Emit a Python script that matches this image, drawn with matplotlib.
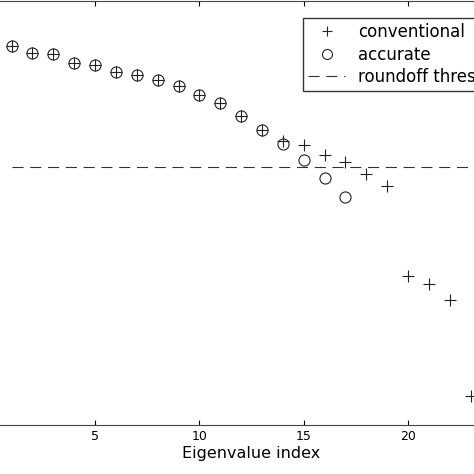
import matplotlib
matplotlib.use('Agg')
import matplotlib.pyplot as plt

# eigenvalue magnitudes (arbitrary log-like units)
conv_idx = list(range(1, 24))
conv_val = [-1.84, -2.12, -2.16, -2.52, -2.60, -2.88, -3.00, -3.20, -3.44, -3.80,
            -4.12, -4.64, -5.20, -5.64, -5.80, -6.20, -6.48, -6.96, -7.44,
            -11.0, -11.32, -11.96, -15.8]
acc_idx = list(range(1, 18))
acc_val = [-1.84, -2.12, -2.16, -2.52, -2.60, -2.88, -3.00, -3.20, -3.44, -3.80,
           -4.12, -4.64, -5.20, -5.76, -6.40, -7.12, -7.88]
threshold = -6.68
thr_x = [1, 25]

W = 474
fig = plt.figure(figsize=(W / 100, W / 100), dpi=100)
ax = fig.add_axes([-9.3 / W, 49 / W, 521.7 / W, 424 / W])

ax.plot(conv_idx, conv_val, '+', color='#222222', markersize=8, markeredgewidth=0.8,
        label='conventional')
ax.plot(acc_idx, acc_val, 'o', mfc='none', mec='#222222', markersize=8,
        markeredgewidth=0.8, label='accurate')
ax.plot(thr_x, [threshold, threshold], '--', color='#333333', linewidth=0.8,
        dashes=(10, 6), label='roundoff threshold')

ax.set_xlim(0, 25)
ax.set_ylim(-16.96, -0.04)
ax.set_xticks([5, 10, 15, 20])
ax.set_yticks([])
ax.tick_params(direction='in', top=True, labelsize=9)
ax.set_xlabel('Eigenvalue index', fontsize=11.5, labelpad=2)
for s in ax.spines.values():
    s.set_color('#444444')

ax.legend(loc='upper left', bbox_to_anchor=(295 / W, 1 - 10 / W),
          bbox_transform=fig.transFigure, fontsize=12, frameon=True,
          fancybox=False, edgecolor='#333333', framealpha=1,
          handlelength=2.2, borderpad=0.3, labelspacing=0.25, markerscale=0.9)

fig.savefig('out.png', dpi=100)
